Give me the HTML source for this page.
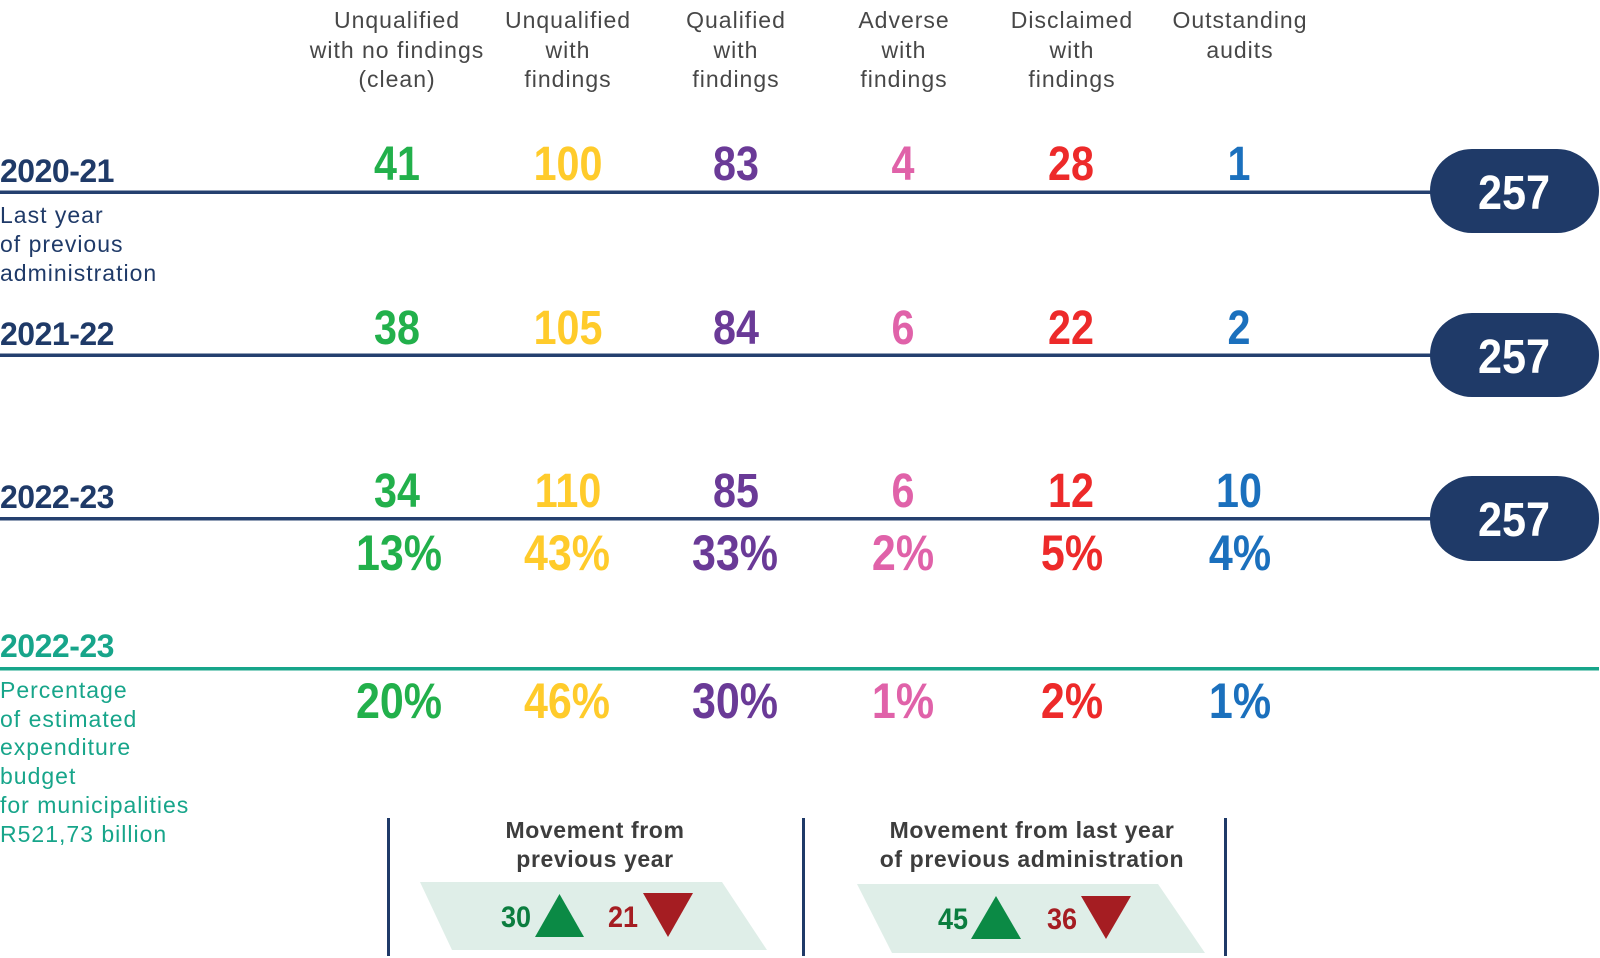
<!DOCTYPE html>
<html>
<head>
<meta charset="utf-8">
<style>
  html,body{margin:0;padding:0;background:#fff;}
  svg{display:block;}
  .hd{font-family:"Liberation Sans",sans-serif;font-size:23px;fill:#474747;letter-spacing:1px;text-anchor:middle;}
  .lab{font-family:"Liberation Sans",sans-serif;font-size:32px;font-weight:bold;letter-spacing:-0.5px;}
  .sub{font-family:"Liberation Sans",sans-serif;font-size:23px;letter-spacing:1px;}
  .num{font-family:"Liberation Sans",sans-serif;font-size:48px;font-weight:bold;text-anchor:middle;}
  .pct{font-family:"Liberation Sans",sans-serif;font-size:50px;font-weight:bold;text-anchor:middle;}
  .pill{font-family:"Liberation Sans",sans-serif;font-size:48px;font-weight:bold;text-anchor:middle;fill:#fff;}
  .mv{font-family:"Liberation Sans",sans-serif;font-size:23px;font-weight:bold;fill:#3d3d3d;letter-spacing:0.6px;text-anchor:middle;}
  .mn{font-family:"Liberation Sans",sans-serif;font-size:30px;font-weight:bold;text-anchor:middle;}
</style>
</head>
<body>
<svg width="1600" height="958" viewBox="0 0 1600 958" xmlns="http://www.w3.org/2000/svg">
  <!-- Headers -->
  <text class="hd" x="397" y="28">Unqualified</text>
  <text class="hd" x="397" y="58">with no findings</text>
  <text class="hd" x="397" y="87">(clean)</text>

  <text class="hd" x="568" y="28">Unqualified</text>
  <text class="hd" x="568" y="58">with</text>
  <text class="hd" x="568" y="87">findings</text>

  <text class="hd" x="736" y="28">Qualified</text>
  <text class="hd" x="736" y="58">with</text>
  <text class="hd" x="736" y="87">findings</text>

  <text class="hd" x="904" y="28">Adverse</text>
  <text class="hd" x="904" y="58">with</text>
  <text class="hd" x="904" y="87">findings</text>

  <text class="hd" x="1072" y="28">Disclaimed</text>
  <text class="hd" x="1072" y="58">with</text>
  <text class="hd" x="1072" y="87">findings</text>

  <text class="hd" x="1240" y="28">Outstanding</text>
  <text class="hd" x="1240" y="58">audits</text>

  <!-- Row labels -->
  <text class="lab" x="0" y="182" fill="#1f3a68">2020-21</text>
  <text class="sub" x="0" y="223" fill="#1f3a68">Last year</text>
  <text class="sub" x="0" y="252" fill="#1f3a68">of previous</text>
  <text class="sub" x="0" y="281" fill="#1f3a68">administration</text>
  <text class="lab" x="0" y="345" fill="#1f3a68">2021-22</text>
  <text class="lab" x="0" y="508" fill="#1f3a68">2022-23</text>

  <!-- Navy lines -->
  <rect x="0" y="190.5" width="1440" height="3.5" fill="#25406f"/>
  <rect x="0" y="353.5" width="1440" height="3.5" fill="#25406f"/>
  <rect x="0" y="517" width="1440" height="3.5" fill="#25406f"/>

  <!-- Pills -->
  <rect x="1430" y="149" width="169" height="84" rx="42" ry="42" fill="#1f3a68"/>
  <rect x="1430" y="313" width="169" height="84" rx="42" ry="42" fill="#1f3a68"/>
  <rect x="1430" y="476" width="169" height="85" rx="42" ry="42" fill="#1f3a68"/>
  <g transform="translate(1514,209) scale(0.9,1)"><text class="pill" x="0" y="0">257</text></g>
  <g transform="translate(1514,373) scale(0.9,1)"><text class="pill" x="0" y="0">257</text></g>
  <g transform="translate(1514,536) scale(0.9,1)"><text class="pill" x="0" y="0">257</text></g>

  <!-- Row 1 numbers -->
  <g transform="translate(397,180) scale(0.86,1)"><text class="num" fill="#22b04b">41</text></g>
  <g transform="translate(568,180) scale(0.86,1)"><text class="num" fill="#ffcb2b">100</text></g>
  <g transform="translate(736,180) scale(0.86,1)"><text class="num" fill="#6a3a97">83</text></g>
  <g transform="translate(903,180) scale(0.86,1)"><text class="num" fill="#e062a9">4</text></g>
  <g transform="translate(1071,180) scale(0.86,1)"><text class="num" fill="#ed2a2a">28</text></g>
  <g transform="translate(1239,180) scale(0.86,1)"><text class="num" fill="#1b70bd">1</text></g>

  <!-- Row 2 numbers -->
  <g transform="translate(397,344) scale(0.86,1)"><text class="num" fill="#22b04b">38</text></g>
  <g transform="translate(568,344) scale(0.86,1)"><text class="num" fill="#ffcb2b">105</text></g>
  <g transform="translate(736,344) scale(0.86,1)"><text class="num" fill="#6a3a97">84</text></g>
  <g transform="translate(903,344) scale(0.86,1)"><text class="num" fill="#e062a9">6</text></g>
  <g transform="translate(1071,344) scale(0.86,1)"><text class="num" fill="#ed2a2a">22</text></g>
  <g transform="translate(1239,344) scale(0.86,1)"><text class="num" fill="#1b70bd">2</text></g>

  <!-- Row 3 numbers -->
  <g transform="translate(397,507) scale(0.86,1)"><text class="num" fill="#22b04b">34</text></g>
  <g transform="translate(568,507) scale(0.86,1)"><text class="num" fill="#ffcb2b">110</text></g>
  <g transform="translate(736,507) scale(0.86,1)"><text class="num" fill="#6a3a97">85</text></g>
  <g transform="translate(903,507) scale(0.86,1)"><text class="num" fill="#e062a9">6</text></g>
  <g transform="translate(1071,507) scale(0.86,1)"><text class="num" fill="#ed2a2a">12</text></g>
  <g transform="translate(1239,507) scale(0.86,1)"><text class="num" fill="#1b70bd">10</text></g>

  <!-- Percent row -->
  <g transform="translate(399,570) scale(0.86,1)"><text class="pct" fill="#22b04b">13%</text></g>
  <g transform="translate(567,570) scale(0.86,1)"><text class="pct" fill="#ffcb2b">43%</text></g>
  <g transform="translate(735,570) scale(0.86,1)"><text class="pct" fill="#6a3a97">33%</text></g>
  <g transform="translate(903,570) scale(0.86,1)"><text class="pct" fill="#e062a9">2%</text></g>
  <g transform="translate(1072,570) scale(0.86,1)"><text class="pct" fill="#ed2a2a">5%</text></g>
  <g transform="translate(1240,570) scale(0.86,1)"><text class="pct" fill="#1b70bd">4%</text></g>

  <!-- Teal section -->
  <text class="lab" x="0" y="657" fill="#17a58a">2022-23</text>
  <rect x="0" y="667" width="1599" height="3.5" fill="#17a58a"/>
  <text class="sub" x="0" y="698" fill="#17a58a">Percentage</text>
  <text class="sub" x="0" y="727" fill="#17a58a">of estimated</text>
  <text class="sub" x="0" y="755" fill="#17a58a">expenditure</text>
  <text class="sub" x="0" y="784" fill="#17a58a">budget</text>
  <text class="sub" x="0" y="813" fill="#17a58a">for municipalities</text>
  <text class="sub" x="0" y="842" fill="#17a58a">R521,73 billion</text>

  <g transform="translate(399,718) scale(0.86,1)"><text class="pct" fill="#22b04b">20%</text></g>
  <g transform="translate(567,718) scale(0.86,1)"><text class="pct" fill="#ffcb2b">46%</text></g>
  <g transform="translate(735,718) scale(0.86,1)"><text class="pct" fill="#6a3a97">30%</text></g>
  <g transform="translate(903,718) scale(0.86,1)"><text class="pct" fill="#e062a9">1%</text></g>
  <g transform="translate(1072,718) scale(0.86,1)"><text class="pct" fill="#ed2a2a">2%</text></g>
  <g transform="translate(1240,718) scale(0.86,1)"><text class="pct" fill="#1b70bd">1%</text></g>

  <!-- Bottom movement section -->
  <rect x="387" y="818" width="3" height="138" fill="#1f3a68"/>
  <rect x="802" y="818" width="3" height="138" fill="#1f3a68"/>
  <rect x="1224" y="818" width="3" height="138" fill="#1f3a68"/>

  <text class="mv" x="595" y="838">Movement from</text>
  <text class="mv" x="595" y="867">previous year</text>
  <text class="mv" x="1032" y="838">Movement from last year</text>
  <text class="mv" x="1032" y="867">of previous administration</text>

  <polygon points="420,882 722,882 767,950 452,950" fill="#dfeee8"/>
  <polygon points="857,884 1158,884 1205,953 892,953" fill="#dfeee8"/>

  <g transform="translate(516,927) scale(0.9,1)"><text class="mn" fill="#0b7d3f">30</text></g>
  <polygon points="535,937 584,937 559.5,894" fill="#0b8a45"/>
  <g transform="translate(623,927) scale(0.9,1)"><text class="mn" fill="#a51d22">21</text></g>
  <polygon points="643,893 693,893 668,937" fill="#a51d22"/>

  <g transform="translate(953,929) scale(0.9,1)"><text class="mn" fill="#0b7d3f">45</text></g>
  <polygon points="971,939 1021,939 996,896" fill="#0b8a45"/>
  <g transform="translate(1062,929) scale(0.9,1)"><text class="mn" fill="#a51d22">36</text></g>
  <polygon points="1081,896 1131,896 1106,939" fill="#a51d22"/>
</svg>
</body>
</html>
